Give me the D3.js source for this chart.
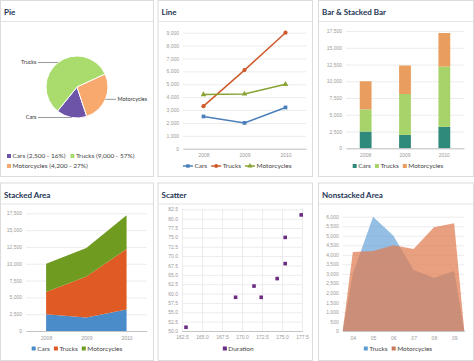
<!DOCTYPE html>
<html>
<head>
<meta charset="utf-8">
<script src="https://cdn.jsdelivr.net/npm/d3@7"></script>
<style>
  body { margin: 0; background: #fff; }
  svg { display: block; font-family: Lato, "Liberation Sans", sans-serif; }
</style>
</head>
<body>
<svg id="chart" width="474" height="361"></svg>
<script>
// ---- data ----
const years = ["2008", "2009", "2010"];
const seriesNames = ["Cars", "Trucks", "Motorcycles"];
const cars = [2500, 2000, 3200];
const trucks = [3300, 6100, 9000];
const motorcycles = [4200, 4250, 5000];

const pieLabels = ["Cars", "Trucks", "Motorcycles"];
const pieValues = [2500, 9000, 4200];
const piePercents = ["16%", "57%", "27%"];

const lineTicks = [0, 1000, 2000, 3000, 4000, 5000, 6000, 7000, 8000, 9000];
const stackTicks = [0, 2500, 5000, 7500, 10000, 12500, 15000, 17500];

const scatterHeight = [163, 169.2, 171.5, 172.4, 174.4, 175.4, 175.4, 177.4];
const scatterDuration = [51, 59, 62, 59, 64, 68, 75, 81];
const scatterXTicks = [162.5, 165, 167.5, 170, 172.5, 175, 177.5];
const scatterYTicks = [50, 52.5, 55, 57.5, 60, 62.5, 65, 67.5, 70, 72.5, 75, 77.5, 80, 82.5];

const months = ["04", "05", "06", "07", "08", "09"];
const areaTrucks = [3000, 6000, 5000, 3200, 2800, 3150];
const areaMotorcycles = [4150, 4200, 4500, 4300, 5450, 5650];
const areaTicks = [0, 500, 1000, 1500, 2000, 2500, 3000, 3500, 4000, 4500, 5000, 5500, 6000];

const fmt = d3.format(",");
const svg = d3.select("#chart");

const cols = [[0, 154], [157.5, 313], [318, 474]];
const rows = [[0, 177], [182.5, 361]];

function panel(c, r, title) {
  const [x0, x1] = cols[c], [y0, y1] = rows[r];
  const g = svg.append("g").attr("transform", `translate(${x0},${y0})`);
  g.append("rect")
      .attr("x", 0.5).attr("y", 0.5)
      .attr("width", x1 - x0 - 1).attr("height", y1 - y0 - 1)
      .attr("fill", "#fff").attr("stroke", "#dcdcdc");
  g.append("line")
      .attr("x1", 1).attr("x2", x1 - x0 - 1)
      .attr("y1", 21.5).attr("y2", 21.5)
      .attr("stroke", "#e4e4e4");
  g.append("text")
      .attr("x", 4).attr("y", 15)
      .attr("font-size", 8).attr("font-weight", "bold")
      .attr("fill", "#1d3454")
      .text(title);
  return { g, w: x1 - x0 };
}

function yAxis(g, y, ticks, left, right, format) {
  g.append("g")
      .attr("transform", `translate(${left},0)`)
      .call(d3.axisLeft(y).tickValues(ticks).tickFormat(format).tickSize(-(right - left)).tickPadding(4))
      .call(a => a.select(".domain").remove())
      .call(a => a.selectAll(".tick line").attr("stroke", "#ececec"))
      .call(a => a.selectAll(".tick text").attr("fill", "#9a9a9a").attr("font-size", 5).attr("font-family", "inherit"));
}

function xAxis(g, x, bottom, ticks) {
  const ax = d3.axisBottom(x).tickSize(0).tickPadding(5);
  if (ticks) ax.tickValues(ticks);
  g.append("g")
      .attr("transform", `translate(0,${bottom})`)
      .call(ax)
      .call(a => a.select(".domain").attr("stroke", "#c4c4c4"))
      .call(a => a.selectAll(".tick text").attr("fill", "#9a9a9a").attr("font-size", 5).attr("font-family", "inherit"));
}

// legend centred at cx; items: {name, color, draw}
function legend(g, cx, cy, items) {
  const lg = g.append("g");
  let x = 0;
  items.forEach(it => {
    const sw = it.marker ? 10 : 4;
    const ig = lg.append("g").attr("transform", `translate(${x},0)`);
    if (it.marker) it.marker(ig, sw);
    else ig.append("rect").attr("x", 0).attr("y", cy - 2).attr("width", 4).attr("height", 4).attr("fill", it.color);
    const t = ig.append("text").attr("x", sw + 1.5).attr("y", cy + 2.3)
        .attr("font-size", 6.5).attr("fill", "#444").text(it.name);
    x += sw + 1.5 + t.node().getComputedTextLength() + 4;
  });
  lg.attr("transform", `translate(${cx - (x - 4) / 2},0)`);
}

// ---- Pie ----
{
  const { g } = panel(0, 0, "Pie");
  const colors = ["#6d54a9", "#a9dc6c", "#f8aa6e"];
  const cx = 77, cy = 87, r = 31;
  const total = d3.sum(pieValues);
  const start = Math.PI * 2 * 0.449;
  const pie = d3.pie().sort(null).startAngle(start).endAngle(start + Math.PI * 2);
  const arcs = pie(pieValues);
  const arc = d3.arc().innerRadius(0).outerRadius(r);
  const pg = g.append("g").attr("transform", `translate(${cx},${cy})`);
  pg.selectAll("path").data(arcs).join("path")
      .attr("d", arc)
      .attr("fill", (d, i) => colors[i])
      .attr("stroke", "#fff").attr("stroke-width", 1);
  arcs.forEach((d, i) => {
    const a = (d.startAngle + d.endAngle) / 2;
    const px = Math.sin(a) * r, py = -Math.cos(a) * r;
    const side = px < 0 ? -1 : 1;
    const ex = side * (r + 8);
    pg.append("polyline")
        .attr("points", [[px, py], [ex, py]])
        .attr("fill", "none").attr("stroke", "#555").attr("stroke-width", 0.6);
    pg.append("text")
        .attr("x", ex + side * 1.5).attr("y", py + 1.8)
        .attr("text-anchor", side < 0 ? "end" : "start")
        .attr("font-size", 5.5).attr("fill", "#333")
        .text(pieLabels[i]);
  });
  // legend, flowing left to right with wrap
  let lx = 7, ly = 156;
  pieLabels.forEach((name, i) => {
    const label = `${name} (${fmt(pieValues[i])} - ${piePercents[i]})`;
    const ig = g.append("g");
    ig.append("rect").attr("width", 4).attr("height", 4).attr("fill", colors[i]);
    const t = ig.append("text").attr("x", 5.5).attr("y", 4.3)
        .attr("font-size", 6.5).attr("fill", "#444").text(label);
    const w = 5.5 + t.node().getComputedTextLength();
    if (lx + w > 148) { lx = 7; ly += 10; }
    ig.attr("transform", `translate(${lx},${ly - 2})`);
    lx += w + 5;
  });
}

// ---- Line ----
{
  const { g, w } = panel(1, 0, "Line");
  const left = 25.5, right = 148.5, top = 32.7, bottom = 148.7;
  const x = d3.scalePoint(years, [left, right]).padding(0.5);
  const y = d3.scaleLinear([0, 9000], [bottom, top]);
  yAxis(g, y, lineTicks, left, right, fmt);
  xAxis(g, x, bottom);
  const colors = ["#4b7fb9", "#cf5a2b", "#86a333"];
  const data = [cars, trucks, motorcycles];
  const line = d3.line().x((d, i) => x(years[i])).y(d => y(d));
  const shapes = [d3.symbolSquare, d3.symbolCircle, d3.symbolTriangle];
  const sizes = [14, 14, 14];
  data.forEach((vals, s) => {
    g.append("path").attr("d", line(vals))
        .attr("fill", "none").attr("stroke", colors[s]).attr("stroke-width", 1.5);
    g.selectAll(null).data(vals).join("path")
        .attr("transform", (d, i) => `translate(${x(years[i])},${y(d)})`)
        .attr("d", d3.symbol(shapes[s], sizes[s]))
        .attr("fill", colors[s]);
  });
  legend(g, w / 2 + 2, 166, seriesNames.map((name, s) => ({
    name,
    marker: (ig, sw) => {
      ig.append("line").attr("x1", 0).attr("x2", sw).attr("y1", 166).attr("y2", 166)
          .attr("stroke", colors[s]).attr("stroke-width", 1.5);
      ig.append("path").attr("transform", `translate(${sw / 2},166)`)
          .attr("d", d3.symbol(shapes[s], 12)).attr("fill", colors[s]);
    }
  })));
}

// ---- Bar & Stacked Bar ----
{
  const { g, w } = panel(2, 0, "Bar & Stacked Bar");
  const left = 28, right = 146, top = 31, bottom = 148.3;
  const x = d3.scaleBand(years, [left, right]).paddingInner(0.7).paddingOuter(0.35);
  const y = d3.scaleLinear([0, 17500], [bottom, top]);
  yAxis(g, y, stackTicks, left, right, fmt);
  const colors = ["#2f8a7b", "#a7d36b", "#e99d5e"];
  const table = years.map((yr, i) => ({ year: yr, Cars: cars[i], Trucks: trucks[i], Motorcycles: motorcycles[i] }));
  const stacked = d3.stack().keys(seriesNames)(table);
  stacked.forEach((layer, s) => {
    g.append("g").attr("fill", colors[s])
      .selectAll("rect").data(layer).join("rect")
        .attr("x", d => x(d.data.year))
        .attr("width", x.bandwidth())
        .attr("y", d => y(d[1]))
        .attr("height", d => y(d[0]) - y(d[1]));
  });
  xAxis(g, x, bottom);
  legend(g, w / 2 + 2, 166, seriesNames.map((name, s) => ({ name, color: colors[s] })));
}

// ---- Stacked Area ----
{
  const { g, w } = panel(0, 1, "Stacked Area");
  const left = 26, right = 146.7, top = 30.8, bottom = 148.5;
  const x = d3.scalePoint(years, [left, right]).padding(0.5);
  const y = d3.scaleLinear([0, 17500], [bottom, top]);
  yAxis(g, y, stackTicks, left, right, fmt);
  const colors = ["#4a8bca", "#e05a23", "#6f9b20"];
  const table = years.map((yr, i) => ({ year: yr, Cars: cars[i], Trucks: trucks[i], Motorcycles: motorcycles[i] }));
  const stacked = d3.stack().keys(seriesNames)(table);
  const area = d3.area().x(d => x(d.data.year)).y0(d => y(d[0])).y1(d => y(d[1]));
  stacked.forEach((layer, s) => {
    g.append("path").attr("d", area(layer)).attr("fill", colors[s]);
  });
  xAxis(g, x, bottom);
  legend(g, w / 2, 166, seriesNames.map((name, s) => ({ name, color: colors[s] })));
}

// ---- Scatter ----
{
  const { g, w } = panel(1, 1, "Scatter");
  const left = 24.5, right = 144.5, top = 26.8, bottom = 148.5;
  const x = d3.scaleLinear([162.5, 177.5], [left, right]);
  const y = d3.scaleLinear([50, 82.5], [bottom, top]);
  const f1 = d3.format(".1f");
  yAxis(g, y, scatterYTicks, left, right, f1);
  g.append("g")
      .attr("transform", `translate(0,${bottom})`)
      .call(d3.axisBottom(x).tickValues(scatterXTicks).tickFormat(f1).tickSize(-(bottom - top)).tickPadding(4))
      .call(a => a.select(".domain").attr("stroke", "#c4c4c4"))
      .call(a => a.selectAll(".tick line").attr("stroke", "#ececec"))
      .call(a => a.selectAll(".tick text").attr("fill", "#9a9a9a").attr("font-size", 5).attr("font-family", "inherit"));
  g.selectAll(null).data(scatterHeight).join("rect")
      .attr("x", (d, i) => x(d) - 1.8)
      .attr("y", (d, i) => y(scatterDuration[i]) - 1.8)
      .attr("width", 3.6).attr("height", 3.6)
      .attr("fill", "#6b2d82");
  legend(g, w / 2 + 3, 166, [{ name: "Duration", color: "#6b2d82" }]);
}

// ---- Nonstacked Area ----
{
  const { g, w } = panel(2, 1, "Nonstacked Area");
  const left = 24.7, right = 146.3, top = 34.2, bottom = 148.5;
  const x = d3.scalePoint(months, [left, right]).padding(0.5);
  const y = d3.scaleLinear([0, 6000], [bottom, top]);
  yAxis(g, y, areaTicks, left, right, fmt);
  const colors = ["#5b9bd5", "#e07b4f"];
  const opac = [0.65, 0.72];
  const area = d3.area().x(d => d[0]).y0(y(0)).y1(d => y(d[1]));
  [areaTrucks, areaMotorcycles].forEach((vals, s) => {
    const pts = [[x(months[0]) - x.step() / 2, 0]]
      .concat(vals.map((v, i) => [x(months[i]), v]))
      .concat([[x(months[months.length - 1]) + x.step() / 2, 0]]);
    g.append("path").attr("d", area(pts)).attr("fill", colors[s]).attr("fill-opacity", opac[s]);
  });
  xAxis(g, x, bottom);
  legend(g, w / 2 + 2, 166, [
    { name: "Trucks", color: colors[0] },
    { name: "Motorcycles", color: "#c9765a" }
  ]);
}
</script>
</body>
</html>
